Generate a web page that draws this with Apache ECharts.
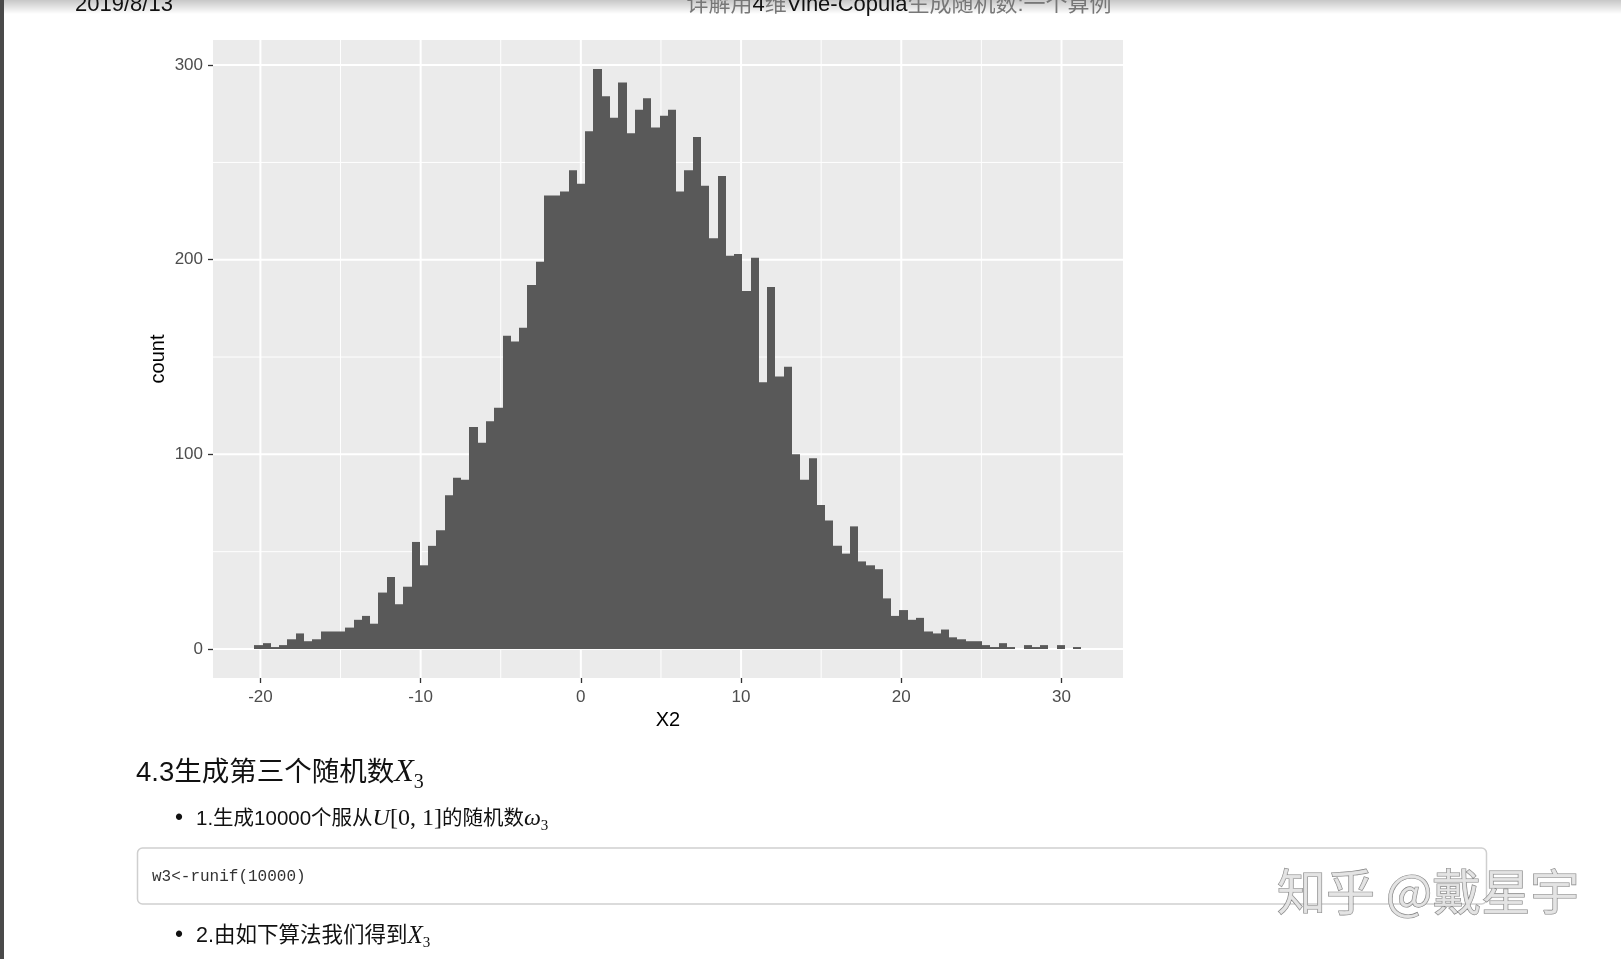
<!DOCTYPE html>
<html>
<head>
<meta charset="utf-8">
<script src="https://cdn.jsdelivr.net/npm/echarts@6/dist/echarts.min.js"></script>
<style>
html,body{margin:0;padding:0;background:#ffffff;}
#c{width:1621px;height:959px;}
</style>
</head>
<body>
<div id="c"></div>
<script>
// ---- data (100 bins) ----
const counts = [
  2,3,1,2,5,8,4,5,9,9,
  9,11,15,17,13,29,37,23,32,55,
  43,53,61,79,88,87,114,106,117,124,
  161,158,165,187,199,233,233,235,246,239,
  266,298,284,273,291,265,277,283,268,274,
  277,235,246,263,238,211,243,202,203,184,
  201,137,186,140,145,100,87,98,74,66,
  53,49,63,45,43,41,26,17,20,15,
  16,9,8,10,6,5,4,4,2,1,
  3,1,0,2,1,2,0,2,0,1
];
const binStart = -20.375;   // left edge of first bin
const binWidth = 0.5162;    // histogram bin width
const xTicks = [-20, -10, 0, 10, 20, 30];
const xMinorTicks = [-15, -5, 5, 15, 25];
const yTicks = [0, 100, 200, 300];
const yMinorTicks = [50, 150, 250];
const xName = 'X2';
const yName = 'count';
const headerDate = '2019/8/13';
const headingText = '4.3生成第三个随机数';
const bullet1Text = '1.生成10000个服从';
const bullet1Tail = '的随机数';
const codeText = 'w3<-runif(10000)';
const bullet2Text = '2.由如下算法我们得到';
const watermark = '知乎 @戴星宇';

// ---- build ----
const bins = counts.map((c, i) => [binStart + i * binWidth, binStart + (i + 1) * binWidth, c]);
const gridLines = []
  .concat(xTicks.map(v => [v, 0, 2]))
  .concat(xMinorTicks.map(v => [v, 0, 1]))
  .concat(yTicks.map(v => [v, 1, 2]))
  .concat(yMinorTicks.map(v => [v, 1, 1]));

const SANS = '"Liberation Sans", Arial, "Noto Sans CJK SC", sans-serif';
const CJK = '"Liberation Sans", "Noto Sans CJK SC", sans-serif';
const SERIF = '"Liberation Serif", "DejaVu Serif", serif';

const chart = echarts.init(document.getElementById('c'), null, {renderer: 'canvas'});

const option = {
  animation: false,
  backgroundColor: '#ffffff',
  grid: {
    left: 213, top: 40, width: 910, height: 638,
    show: true, backgroundColor: '#EBEBEB', borderWidth: 0
  },
  xAxis: {
    type: 'value', min: -22.96, max: 33.84,
    axisLine: {show: false, onZero: false},
    axisTick: {show: true, length: 5, customValues: xTicks, lineStyle: {color: '#333333', width: 1.3}},
    axisLabel: {customValues: xTicks, color: '#4D4D4D', fontSize: 17, fontFamily: SANS, margin: 11},
    splitLine: {show: false}
  },
  yAxis: {
    type: 'value', min: -14.9, max: 312.9,
    axisLine: {show: false, onZero: false},
    axisTick: {show: true, length: 5, customValues: yTicks, lineStyle: {color: '#333333', width: 1.3}},
    axisLabel: {customValues: yTicks, color: '#4D4D4D', fontSize: 17, fontFamily: SANS, margin: 10},
    splitLine: {show: false}
  },
  series: [
    {
      type: 'custom', z: 1, silent: true,
      data: gridLines,
      encode: {x: 0},
      renderItem: function (params, api) {
        const v = api.value(0), kind = api.value(1), w = api.value(2);
        const cs = params.coordSys;
        if (kind === 0) {
          const p = api.coord([v, 0]);
          return {type: 'line', shape: {x1: p[0], y1: cs.y, x2: p[0], y2: cs.y + cs.height},
                  style: {stroke: '#ffffff', lineWidth: w}};
        } else {
          const p = api.coord([0, v]);
          return {type: 'line', shape: {x1: cs.x, y1: p[1], x2: cs.x + cs.width, y2: p[1]},
                  style: {stroke: '#ffffff', lineWidth: w}};
        }
      }
    },
    {
      type: 'custom', z: 2, silent: true,
      data: bins,
      encode: {x: [0, 1], y: 2},
      renderItem: function (params, api) {
        const x0 = api.value(0), x1 = api.value(1), c = api.value(2);
        if (c <= 0) return null;
        const pTop = api.coord([x0, c]);
        const pBot = api.coord([x1, 0]);
        const left = Math.round(pTop[0]);
        const right = Math.round(pBot[0]);
        return {type: 'rect',
          shape: {x: left, y: pTop[1], width: right - left, height: pBot[1] - pTop[1]},
          style: {fill: '#595959'}};
      }
    }
  ],
  graphic: [
    // top page shadow
    {type: 'rect', z: 100, shape: {x: 0, y: 0, width: 1621, height: 14},
     style: {fill: {type: 'linear', x: 0, y: 0, x2: 0, y2: 1,
       colorStops: [{offset: 0, color: 'rgba(0,0,0,0.22)'}, {offset: 1, color: 'rgba(0,0,0,0)'}]}}},
    // left page border
    {type: 'rect', z: 100, shape: {x: 0, y: 0, width: 4, height: 959}, style: {fill: '#4a4a4a'}},
    // header
    {type: 'text', z: 101, x: 75, y: 16,
     style: {text: headerDate, fill: '#111', fontSize: 22, fontFamily: SANS, verticalAlign: 'bottom', align: 'left'}},
    {type: 'text', z: 101, x: 899, y: 16,
     style: {text: '{c|详解用}{l|4}{c|维}{l|Vine-Copula}{c|生成随机数:一个算例}',
       align: 'center', verticalAlign: 'bottom',
       rich: {c: {fill: '#777', fontSize: 22, fontFamily: CJK},
              l: {fill: '#111', fontSize: 22, fontFamily: SANS}}}},
    // axis titles
    {type: 'text', x: 668, y: 720,
     style: {text: xName, fill: '#000', fontSize: 20, fontFamily: SANS, align: 'center', verticalAlign: 'middle'}},
    {type: 'text', x: 158, y: 359, rotation: Math.PI / 2,
     style: {text: yName, fill: '#000', fontSize: 20, fontFamily: SANS, align: 'center', verticalAlign: 'middle'}},
    // heading
    {type: 'text', x: 136, y: 773,
     style: {text: '{t|' + headingText + '}{m|X}{s|3}', verticalAlign: 'middle', align: 'left',
       rich: {t: {fill: '#111', fontSize: 27.5, fontFamily: CJK, lineHeight: 40},
              m: {fill: '#111', fontSize: 32, fontFamily: SERIF, fontStyle: 'italic', lineHeight: 40},
              s: {fill: '#111', fontSize: 20, fontFamily: SERIF, lineHeight: 20, verticalAlign: 'bottom'}}}},
    // bullet 1
    {type: 'text', x: 175, y: 819,
     style: {text: '•', fill: '#111', fontSize: 23, fontFamily: SANS, verticalAlign: 'middle'}},
    {type: 'text', x: 196, y: 819,
     style: {text: '{t|' + bullet1Text + '}{m|U}{r|[0, 1]}{t|' + bullet1Tail + '}{m|ω}{s|3}',
       verticalAlign: 'middle', align: 'left',
       rich: {t: {fill: '#111', fontSize: 20.5, fontFamily: CJK, lineHeight: 30},
              m: {fill: '#111', fontSize: 24, fontFamily: SERIF, fontStyle: 'italic', lineHeight: 30},
              r: {fill: '#111', fontSize: 24, fontFamily: SERIF, lineHeight: 30},
              s: {fill: '#111', fontSize: 15, fontFamily: SERIF, lineHeight: 15, verticalAlign: 'bottom'}}}},
    // code box
    {type: 'rect', shape: {x: 137.5, y: 848, width: 1349, height: 56, r: 5},
     style: {fill: '#ffffff', stroke: '#cfcfcf', lineWidth: 1.5}},
    {type: 'text', x: 152, y: 877,
     style: {text: codeText, fill: '#333', fontSize: 16, fontFamily: '"Liberation Mono", "DejaVu Sans Mono", monospace', verticalAlign: 'middle'}},
    // bullet 2
    {type: 'text', x: 175, y: 936,
     style: {text: '•', fill: '#111', fontSize: 23, fontFamily: SANS, verticalAlign: 'middle'}},
    {type: 'text', x: 196, y: 936,
     style: {text: '{t|' + bullet2Text + '}{m|X}{s|3}', verticalAlign: 'middle', align: 'left',
       rich: {t: {fill: '#111', fontSize: 21.5, fontFamily: CJK, lineHeight: 30},
              m: {fill: '#111', fontSize: 25, fontFamily: SERIF, fontStyle: 'italic', lineHeight: 30},
              s: {fill: '#111', fontSize: 15, fontFamily: SERIF, lineHeight: 15, verticalAlign: 'bottom'}}}},
    // watermark
    {type: 'text', z: 110, x: 1277, y: 891,
     style: {text: watermark, fill: 'rgba(225,225,225,0.9)', stroke: 'rgba(110,110,110,0.85)', lineWidth: 1.2,
       fontSize: 49, fontFamily: '"Noto Sans CJK SC", sans-serif', verticalAlign: 'middle', align: 'left'}}
  ]
};
chart.setOption(option);
</script>
</body>
</html>
